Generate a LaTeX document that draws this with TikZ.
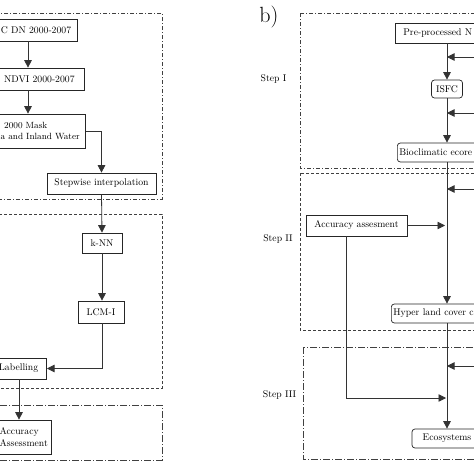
\documentclass[tikz,border=0pt]{standalone}
\usetikzlibrary{arrows.meta}
\begin{document}
\begin{tikzpicture}[x=1pt,y=-1pt]
	% Einstellungen für Kästchen, Pfeile und Rahmen
	\tikzset{
		box/.style={draw=black!85, fill=white, line width=0.7pt, % Kästchen mit dünner Umrandung
			font=\fontsize{9.7}{11.5}\selectfont, minimum height=20pt, inner sep=3pt},
		rbox/.style={box, rounded corners=3pt}, % abgerundete Kästchen
		arr/.style={draw=black!80, line width=0.8pt, -{Triangle[length=7.5pt,width=7.5pt]}}, % Pfeile
		frameA/.style={draw=black!75, line width=0.6pt, dash pattern=on 4pt off 2pt on 1pt off 2pt}, % Strich-Punkt
		frameB/.style={draw=black!75, line width=0.6pt, dash pattern=on 3pt off 2pt}, % gestrichelt
		frameC/.style={draw=black!75, line width=0.6pt, dash pattern=on 7pt off 2pt on 1pt off 2pt}, % lang Strich-Punkt
		steplbl/.style={font=\fontsize{9.7}{11.5}\selectfont, inner sep=0pt} % Beschriftung der Schritte
	}
	\useasboundingbox (0,0) rectangle (474,474);
	\fill[white] (0,0) rectangle (474,474);
	\clip (0,0) rectangle (474,474);

	% Rahmen links
	\draw[frameA] (-5,13) rectangle (162,199);
	\draw[frameB] (-5,214) rectangle (162,388);
	\draw[frameC] (-5,405) rectangle (162,460);

	% Rahmen rechts
	\draw[frameA] (300,13) rectangle (480,168);
	\draw[frameB] (300,173) rectangle (480,330);
	\draw[frameC] (303,347) rectangle (480,459);

	% Spalten für die Pfeile links
	\coordinate (colA) at (28,0);
	\coordinate (colB) at (19,0);

	% Kästchen links
	\node[box, anchor=east, text width=86pt, align=right, inner xsep=6.5pt, minimum height=22pt] (modis) at (78,30) {C DN 2000-2007};
	\node[box, anchor=east, text width=92pt, align=right, inner xsep=10pt, minimum height=22pt] (ndvi) at (85,79) {NDVI 2000-2007};
	\node[box, anchor=east, text width=82pt, align=left, inner xsep=3pt, minimum height=34pt,
		font=\fontsize{9}{11}\selectfont] (mask) at (86,131) {\hspace*{3.5pt}2000 Mask\\a and Inland Water};
	\node[box, minimum width=109pt, minimum height=21pt] (stepw) at (101.5,183.5) {Stepwise interpolation};
	\node[box, minimum width=40pt] (knn) at (102,243) {k-NN};
	\node[box, minimum width=46pt, minimum height=22pt] (lcm) at (101,312) {LCM-I};
	\node[box, anchor=east, text width=40pt, align=right, inner xsep=8.5pt, minimum height=21pt] (label) at (47,368.5) {Labelling};
	\node[box, anchor=east, text width=49pt, align=left, inner xsep=3pt, minimum height=34pt] (accl) at (52,437) {Accuracy\\Assessment};

	% Pfeile links
	\draw[arr] (modis.south -| colA) -- (ndvi.north -| colA);
	\draw[arr] (ndvi.south -| colA) -- (mask.north -| colA);
	\draw[arr] (mask.east) -| (stepw.north);
	\draw[arr] (stepw.south) -- (knn.north);
	\draw[arr] (knn.south) -- (lcm.north -| knn.south);
	\draw[arr] (lcm.south -| knn.south) |- (label.east);
	\draw[arr] (label.south -| colB) -- (accl.north -| colB);

	% Beschriftung rechts
	\node[steplbl, font=\fontsize{22}{26}\selectfont] (panelb) at (269,17) {b)};
	\node[steplbl] (stepI) at (273.5,79) {Step I};
	\node[steplbl] (stepII) at (278,239) {Step II};
	\node[steplbl] (stepIII) at (279.5,395) {Step III};

	% Kästchen rechts
	\node[box, anchor=west, text width=95pt, align=left, inner xsep=8pt] (pre) at (395,33) {Pre-processed N};
	\node[rbox, minimum width=31pt, minimum height=18pt, inner xsep=2pt] (isfc) at (447,89) {ISFC};
	\node[rbox, anchor=west, text width=95pt, align=left, inner xsep=2pt, minimum height=19pt] (bio) at (397,152.5) {Bioclimatic ecore};
	\node[box, minimum width=101pt, minimum height=21pt] (accr) at (356.5,225.5) {Accuracy assesment};
	\node[rbox, anchor=west, text width=100pt, align=left, inner xsep=2pt, minimum height=19pt] (hyper) at (391,313.5) {Hyper land cover c};
	\node[rbox, minimum width=70pt, minimum height=19pt] (eco) at (447,438.5) {Ecosystems};

	% Zuflüsse von rechts
	\coordinate (in1) at (480,57);
	\coordinate (in2) at (480,113);
	\coordinate (in3) at (480,189);
	\coordinate (in4) at (480,366);
	\coordinate (merge) at (446,398);
	\foreach \c in {in1,in2,in3,in4}
		\draw[arr] (\c) -- (\c -| isfc);

	% Hauptstrang rechts
	\draw[arr] (pre.south -| isfc) -- (isfc.north);
	\draw[arr] (isfc.south) -- (bio.north -| isfc);
	\draw[arr] (bio.south -| isfc) -- (hyper.north -| isfc);
	\draw[arr] (hyper.south -| isfc) -- (eco.north);
	\draw[arr] (accr.east) -- ([xshift=-2pt]accr.east -| isfc);
	\draw[arr] ([xshift=-10.5pt]accr.south) |- (merge);
\end{tikzpicture}
\end{document}
